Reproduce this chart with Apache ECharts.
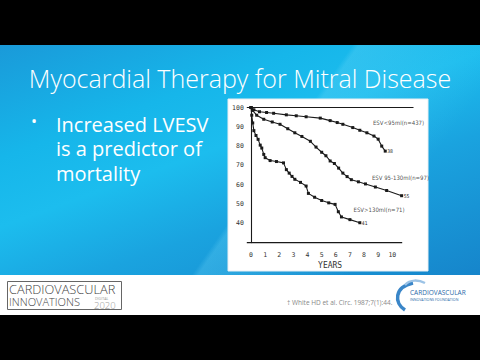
<!DOCTYPE html>
<html><head><meta charset="utf-8">
<script src="https://cdn.jsdelivr.net/npm/echarts@6/dist/echarts.min.js"></script>
<style>
html,body{margin:0;padding:0;background:#000;width:480px;height:360px;overflow:hidden}
#slide{position:absolute;left:0;top:45px;width:480px;height:270px;background:#fff}
#blue{position:absolute;left:0;top:0;width:480px;height:230px;
background:
 linear-gradient(125deg, rgba(255,255,255,0) 0%, rgba(255,255,255,0) 55%, rgba(120,220,250,0.25) 56%, rgba(120,220,250,0) 80%),
 linear-gradient(160deg, #1a9ad9 0%, #16b6ea 28%, #1cbdee 45%, #1aa3df 65%, #1685cb 100%);}
#chart{position:absolute;left:0;top:0;width:480px;height:360px}
</style></head>
<body>
<div id="slide"><div id="blue"></div></div>
<div id="chart"></div>
<script>
// ---- data ----
const years = [0,1,2,3,4,5,6,7,8,9,10];
const yTicks = [40,50,60,70,80,90,100];
const seriesNames = ['ESV<95ml(n=437)','ESV 95-130ml(n=97)','ESV>130ml(n=71)'];
const endLabels = ['38','55','41'];
const esvLow = [[0,100],[0.2,98.8],[0.6,97.8],[1.1,97.4],[1.6,97],[2.5,96.2],[3.2,95.7],[3.9,95.2],[4.9,94.5],[5.6,93.2],[6.1,92.2],[6.5,91.3],[7.2,89.6],[7.7,88.2],[8.2,86.9],[8.7,85.2],[9.0,83.6],[9.25,80],[9.5,77.4]];
const esvMid = [[0,100],[0.1,98.5],[0.4,96],[0.9,93.9],[1.5,92.5],[2.05,91.3],[2.6,89],[3.1,86.9],[3.6,85],[4.2,82.5],[4.6,79.5],[5.0,76.8],[5.3,75],[5.6,72.3],[5.9,71],[6.2,68.6],[6.5,66],[6.8,64.2],[7.1,62.6],[7.6,61.5],[8.1,60.4],[8.8,58.8],[9.6,57],[10.66,54.3]];
const esvHigh = [[0,100],[0.05,96],[0.12,92],[0.2,88],[0.35,85.5],[0.5,83.5],[0.65,80.5],[0.76,79],[0.9,75.7],[1.0,74],[1.35,72.5],[1.8,72],[2.3,71.3],[2.5,67.8],[2.7,66],[2.9,64.3],[3.1,62.8],[3.5,61.2],[3.9,59.3],[4.06,55.5],[4.5,53.5],[5.0,51.8],[5.5,50.6],[5.95,49.8],[6.18,46],[6.4,43.3],[7.0,41.9],[7.7,40.3]];
const seriesData = [esvLow, esvMid, esvHigh];
// frame lines (data coords): top reference at 100%, bottom baseline
const topFrame = [[-0.3,100],[11.5,100]];
const bottomFrame = [[-0.3,30],[10.7,30]];
// label anchors (data coords)
const labelAnchors = [[10.44,92],[10.58,63.5],[9.06,46.9]];

const chart = echarts.init(document.getElementById('chart'), null, {renderer:'svg'});
const ink = '#1a1a1a';
const tf = '"DejaVu Sans Condensed","DejaVu Sans",sans-serif';
const mono = '"DejaVu Sans Mono",monospace';

const series = seriesData.map((d,i)=>({
  type:'line', name:seriesNames[i], data:d, silent:true,
  symbol:'rect', symbolSize:3, showAllSymbol:true,
  lineStyle:{color:ink,width:1.1}, itemStyle:{color:ink},
  endLabel:{show:true,formatter:endLabels[i],fontSize:5,color:ink,distance:2,fontFamily:tf}
}));
[topFrame,bottomFrame].forEach(f=>series.push({type:'line',data:f,silent:true,symbol:'none',clip:false,
  lineStyle:{color:ink,width:1.1}}));
series.push({type:'scatter',silent:true,symbolSize:0,clip:false,
  data:labelAnchors.map((a,i)=>({value:a,name:seriesNames[i]})),
  label:{show:true,position:'inside',formatter:p=>p.name,fontSize:6,color:ink,fontFamily:tf}});

chart.setOption({
  animation:false,
  textStyle:{fontFamily:tf},
  grid:{left:246.8,right:66.5,top:107.5,bottom:117.4},
  xAxis:{type:'value',min:-0.3,max:11.5,
    axisLine:{show:false},splitLine:{show:false},
    axisTick:{show:false},
    axisLabel:{customValues:years,fontSize:6.5,color:'#333',margin:9,fontFamily:mono},
    name:'YEARS',nameLocation:'middle',nameGap:19,nameTextStyle:{fontSize:8,color:'#333',fontFamily:mono}},
  yAxis:{type:'value',min:30,max:100,
    axisLine:{show:true,lineStyle:{color:ink,width:1.1}},splitLine:{show:false},axisTick:{show:false},
    axisLabel:{customValues:yTicks,fontSize:6.5,color:'#333',margin:3,fontFamily:mono}},
  graphic:[
    {type:'rect',z:-10,shape:{x:228,y:99,width:200,height:172},style:{fill:'#fff',stroke:'#e8eef2'}},
    {type:'text',left:'center',top:65,style:{text:'Myocardial Therapy for Mitral Disease',fill:'#fff',
      font:'300 25px "Open Sans", Lato, sans-serif'}},
    {type:'text',left:31,top:113,style:{text:'•',fill:'#fff',font:'16px "Open Sans", sans-serif'}},
    {type:'text',left:56,top:112,style:{text:'Increased LVESV\nis a predictor of\nmortality',fill:'#fff',
      font:'20px "Open Sans", sans-serif',lineHeight:24.5}},
    {type:'rect',shape:{x:7.5,y:281.5,width:114,height:28},style:{fill:'none',stroke:'#666',lineWidth:1}},
    {type:'text',left:9,top:282,style:{text:'CARDIOVASCULAR',fill:'#444',font:'300 12.8px "Open Sans", sans-serif',lineHeight:12.8}},
    {type:'text',left:9,top:295.5,style:{text:'INNOVATIONS',fill:'#444',font:'300 11px "Open Sans", sans-serif',lineHeight:11}},
    {type:'text',left:95,top:296,style:{text:'DIGITAL',fill:'#999',font:'3.6px "Open Sans", sans-serif',lineHeight:3.6}},
    {type:'text',left:94,top:300.2,style:{text:'2020',fill:'#999',font:'300 9.5px "Open Sans", sans-serif',lineHeight:9.5}},
    {type:'text',left:287,top:299,style:{text:'† White HD et al. Circ. 1987;7(1):44.',fill:'#888',font:'6.5px "Open Sans", sans-serif'}},
    {type:'bezierCurve',shape:{x1:413,y1:283,x2:405,y2:310,cpx1:394,cpy1:287,cpx2:394,cpy2:303},style:{stroke:'#3a86c8',lineWidth:3.5,fill:'none'}},
    {type:'bezierCurve',shape:{x1:405,y1:285,x2:425,y2:283,cpx1:410,cpy1:279,cpx2:419,cpy2:280},style:{stroke:'#9cc3e6',lineWidth:2.5,fill:'none'}},
    {type:'text',left:410,top:289,style:{text:'CARDIOVASCULAR',fill:'#2a6aa8',font:'6.5px "Open Sans", sans-serif'}},
    {type:'text',left:410,top:297,style:{text:'INNOVATIONS FOUNDATION',fill:'#2a6aa8',font:'3.6px "Open Sans", sans-serif'}}
  ],
  series:series
});
</script>
</body></html>
